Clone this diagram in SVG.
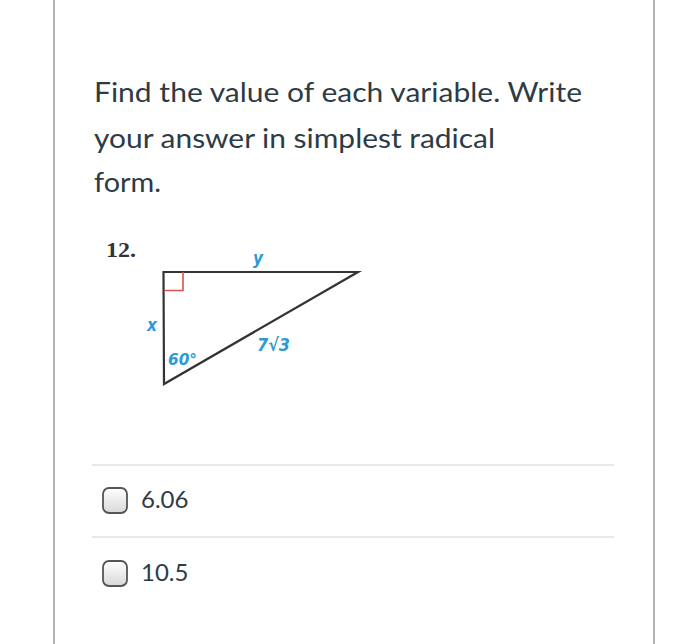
<svg xmlns="http://www.w3.org/2000/svg" width="700" height="644" viewBox="0 0 700 644">
<defs>
<linearGradient id="cb" x1="0" y1="0" x2="0" y2="1">
<stop offset="0" stop-color="#ffffff"/>
<stop offset="1" stop-color="#d8d8d8"/>
</linearGradient>
</defs>
<style>
.q{font-family:Lato,"Open Sans",sans-serif;font-size:27px;fill:#2d3b45}
.a{font-family:Lato,"Open Sans",sans-serif;font-size:24px;fill:#2d3b45}
.lbl{font-family:"DejaVu Sans Condensed","Liberation Sans",sans-serif;font-stretch:condensed;font-weight:bold;font-style:italic;fill:#2b9ad6}
.sep{stroke:#e2e2e2;stroke-width:1.5}
.cb{fill:url(#cb);stroke:#555;stroke-width:1.8}
</style>
<rect width="700" height="644" fill="#fff"/>
<line x1="54" y1="0" x2="54" y2="644" stroke="#9a9a9a" stroke-width="1.5"/>
<line x1="654" y1="0" x2="654" y2="644" stroke="#9a9a9a" stroke-width="1.5"/>
<g id="question">
<text class="q" x="94" y="102" textLength="488" lengthAdjust="spacingAndGlyphs">Find the value of each variable. Write</text>
<text class="q" x="94" y="148" textLength="401" lengthAdjust="spacingAndGlyphs">your answer in simplest radical</text>
<text class="q" x="94" y="192" textLength="67" lengthAdjust="spacingAndGlyphs">form.</text>
</g>
<g id="figure">
<text x="106" y="257" font-family="'Liberation Serif',serif" font-weight="bold" font-size="20" fill="#333" textLength="30" lengthAdjust="spacingAndGlyphs">12.</text>
<polygon points="163.5,272 358,272 164,384" fill="none" stroke="#333" stroke-width="2.2" stroke-linejoin="miter"/>
<polyline points="164,290.5 183,290.5 183,272" fill="none" stroke="#d9534f" stroke-width="1.6"/>
<text class="lbl" x="253" y="264" font-size="17">y</text>
<text class="lbl" x="147" y="331" font-size="17">x</text>
<text class="lbl" x="257" y="351" font-size="18" textLength="33" lengthAdjust="spacingAndGlyphs">7√3</text>
<text class="lbl" x="168" y="365" font-size="15" font-style="normal" textLength="29" lengthAdjust="spacingAndGlyphs">60°</text>
</g>
<g id="answers">
<line class="sep" x1="92" y1="465" x2="614" y2="465"/>
<g id="opt1">
<rect class="cb" x="103" y="488" width="24" height="25" rx="6"/>
<text class="a" x="141" y="508">6.06</text>
</g>
<line class="sep" x1="92" y1="537" x2="614" y2="537"/>
<g id="opt2">
<rect class="cb" x="103" y="561" width="24" height="25" rx="6"/>
<text class="a" x="141" y="581">10.5</text>
</g>
</g>
</svg>
